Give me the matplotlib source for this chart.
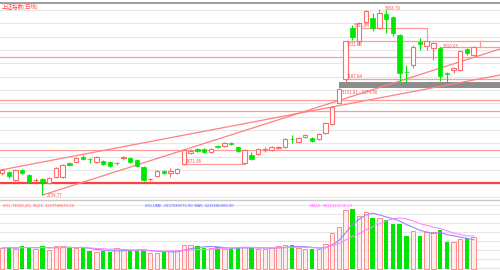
import matplotlib
matplotlib.use("Agg")
import matplotlib.pyplot as plt
import numpy as np
import pandas as pd

plt.rcParams['font.family'] = ['Noto Sans CJK SC', 'DejaVu Sans']

# daily candles (open, high, low, close)
opens = [2821, 2825, 2794, 2832, 2813, 2793, 2797, 2782, 2805, 2805,
         2860, 2864, 2883, 2876, 2864, 2868, 2864, 2858, 2879, 2879,
         2871, 2844, 2796, 2809, 2829, 2821, 2821, 2856, 2898, 2914,
         2914, 2902, 2926, 2926, 2937, 2922, 2860, 2891, 2895, 2910,
         2910, 2918, 2922, 2954, 2941, 2961, 2957, 2953, 2976, 3011,
         3093, 3187.84, 3385, 3334, 3408, 3424, 3385, 3439, 3428, 3358,
         3215, 3241, 3330, 3315, 3307, 3307, 3210, 3220, 3221, 3303, 3280]
highs = [2836, 2829, 2836, 2836, 2817, 2801, 2801, 2805, 2844, 2856,
         2864, 2883, 2891, 2879, 2887, 2871, 2868, 2864, 2887, 2883,
         2875, 2848, 2803, 2832, 2832, 2840, 2840, 2914, 2914, 2918,
         2918, 2918, 2930, 2941, 2941, 2926, 2914, 2902, 2918, 2922,
         2926, 2926, 2957, 2968, 2960, 2972, 2961, 2976, 3019, 3081,
         3152.81, 3335, 3396, 3410, 3456, 3443, 3458.79, 3455, 3432, 3362,
         3241, 3318, 3346, 3336, 3330, 3310.65, 3215, 3233, 3295, 3307, 3315]
lows = [2813, 2801, 2790, 2817, 2782, 2786, 2734.77, 2778, 2801, 2801,
        2848, 2860, 2871, 2860, 2860, 2852, 2844, 2850, 2871, 2860,
        2844, 2790, 2790, 2805, 2817, 2805, 2817, 2852, 2894, 2902,
        2898, 2898, 2918, 2922, 2930, 2902, 2856, 2871, 2891, 2902,
        2906, 2914, 2918, 2937, 2937, 2957, 2941, 2949, 2972, 3007,
        3089, 3174.66, 3340, 3320, 3400, 3373, 3380, 3365, 3354, 3175,
        3175, 3230, 3299, 3300, 3260, 3180, 3174, 3210, 3218, 3280, 3275]
closes = [2832, 2809, 2833, 2821, 2786, 2795, 2786, 2801, 2840, 2852,
          2852, 2879, 2875, 2874, 2883, 2856, 2848, 2860, 2883, 2864,
          2848, 2794, 2798, 2829, 2821, 2829, 2836, 2910, 2906, 2906,
          2902, 2914, 2922, 2937, 2933, 2906, 2910, 2875, 2914, 2914,
          2922, 2922, 2953, 2952, 2957, 2969, 2945, 2972, 3015, 3078,
          3148, 3332.88, 3350, 3404, 3451, 3385, 3443, 3420, 3365, 3210,
          3214, 3311, 3321, 3333, 3325, 3197, 3205, 3228, 3294, 3287, 3310]
# volume, 100M shares
volumes = [210, 220, 200, 230, 220, 200, 230, 190, 230, 230,
           210, 210, 210, 180, 170, 180, 170, 210, 190, 190,
           190, 190, 160, 160, 170, 180, 190, 240, 240, 230,
           210, 210, 220, 200, 200, 220, 220, 220, 200, 200,
           210, 230, 240, 240, 210, 200, 200, 200, 250, 360,
           420, 590, 600, 530, 570, 510, 510, 490, 450, 450,
           330, 380, 330, 370, 370, 390, 270, 270, 300, 310, 320]

# drawn support / resistance levels
level_lines = [3272, 3104.8, 3062, 2910.3]
level_bold = 2782
box_top, box_bottom = 3332.88, 3187.84
gap_low, gap_high = 3152.81, 3174.66
trend_a = ([-0.3, 73.9], [2832, 3202])
trend_b = ([6, 73.9], [2734.77, 3303])

UP = '#ff6a6a'
DOWN = '#00e600'

fig = plt.figure(figsize=(5, 2.7), dpi=100)
ax = fig.add_axes([0, 0.2667, 1, 0.726])
axv = fig.add_axes([0, 0, 1, 0.262])

x = np.arange(len(closes))
o = np.array(opens, float)
h = np.array(highs, float)
l = np.array(lows, float)
c = np.array(closes, float)
up = c >= o

# grid lines
for a in (ax, axv):
    a.set_facecolor('white')
    for s in a.spines.values():
        s.set_visible(False)
    a.set_xticks([])
    a.set_yticks([])
ax.set_xlim(-0.3, 73.9)
axv.set_xlim(-0.3, 73.9)
ax.set_ylim(2723.6, 3486)
axv.set_ylim(-10, 700)

for g in np.arange(3454.9, 2723, -51.9):
    ax.axhline(g, color='#e6e6e6', lw=0.8, zorder=0)
for g in np.arange(10, 700, 90):
    axv.axhline(g, color='#e6e6e6', lw=0.8, zorder=0)

# level lines
for lv in level_lines:
    ax.axhline(lv, color='#ff9a9a', lw=0.9, zorder=1)
ax.axhline(level_bold, color='#ff4040', lw=1.6, zorder=1)
ax.plot([51, 73.9], [box_top, box_top], color='#ff9a9a', lw=0.9, zorder=1)
ax.plot([51, 73.9], [box_bottom, box_bottom], color='#ff9a9a', lw=0.9, zorder=1)
ax.plot([52, 63, 63], [3385, 3385, 3330], color='#ff9a9a', lw=0.9, zorder=1)
ax.plot([65, 73.9], [3310.65, 3310.65], color='#ff9a9a', lw=0.9, zorder=1)
ax.plot([70.9, 70.9], [3310.65, box_top], color='#ff9a9a', lw=0.9, zorder=1)
ax.plot([27, 36], [2856, 2856], color='#ff9a9a', lw=0.9, zorder=1)
ax.fill_between([50, 73.9], gap_low, gap_high, color='#8c8c8c', zorder=1, lw=0)

# trend lines
ax.plot(*trend_a, color='#ff8080', lw=0.9, zorder=1)
ax.plot(*trend_b, color='#ff8080', lw=0.9, zorder=1)

# candles
w = 0.66
col = np.where(up, UP, DOWN)
ax.vlines(x, l, h, colors=col, lw=0.8, zorder=2)
body_lo = np.minimum(o, c)
body_h = np.maximum(np.abs(c - o), 1.2)
ax.bar(x[up], body_h[up], w, bottom=body_lo[up], facecolor='white',
       edgecolor=UP, lw=0.8, zorder=3)
ax.bar(x[~up], body_h[~up], w, bottom=body_lo[~up], color=DOWN,
       edgecolor=DOWN, lw=0.5, zorder=3)

# price labels
lab = dict(color='#ff5050', fontsize=3.2, zorder=5)
ax.text(6.6, 2734.77, '2734.77', va='center', **lab)
ax.text(27.3, 2866, '2871.98', va='center', **lab)
ax.text(50.5, 3133, '3152.81 - 3174.66', va='center', **lab)
ax.text(51.2, box_bottom + 10, '3187.84', va='center', **lab)
ax.text(51.2, box_top - 12, '3332.88', va='center', **lab)
ax.text(52.2, 3396, '3361.84', va='center', **lab)
ax.text(56.8, 3462, '3458.79', va='center', **lab)
ax.text(65.4, 3314, '3310.65', va='center', **lab)

ax.text(0.004, 0.975, '上证指数(日线)', transform=ax.transAxes, color='#ff4040',
        fontsize=4, va='center')
ax.plot([0, 1], [0.997, 0.997], transform=ax.transAxes, color='#a0a0a0', lw=1.5)

# volume
v = np.array(volumes, float)
axv.bar(x[up], v[up], w, facecolor='#ffecec', edgecolor='#ff8a8a', lw=0.7, zorder=2)
axv.bar(x[~up], v[~up], w, color=DOWN, lw=0, zorder=2)
vs = pd.Series(v)
axv.plot(x, vs.rolling(5, min_periods=1).mean(), color='#8c8cff', lw=0.8, zorder=3)
axv.plot(x, vs.rolling(10, min_periods=1).mean(), color='#ff88ff', lw=0.8, zorder=3)
axv.plot([0, 1], [0.99, 0.99], transform=axv.transAxes, color='#c8c8c8', lw=1)

ty = 0.91
axv.text(0.006, ty, 'VOL-TDX(5,10)  VVOL: 3337589976.00', transform=axv.transAxes,
         color='#ff5050', fontsize=3, va='center')
axv.text(0.29, ty, 'VOLUME: 3337589976.00  MA5: 3216680000.00', transform=axv.transAxes,
         color='#5050ff', fontsize=3, va='center')
axv.text(0.62, ty, 'MA10: 3822322235.00', transform=axv.transAxes,
         color='#ff50ff', fontsize=3, va='center')

fig.savefig('out.png', dpi=100)
